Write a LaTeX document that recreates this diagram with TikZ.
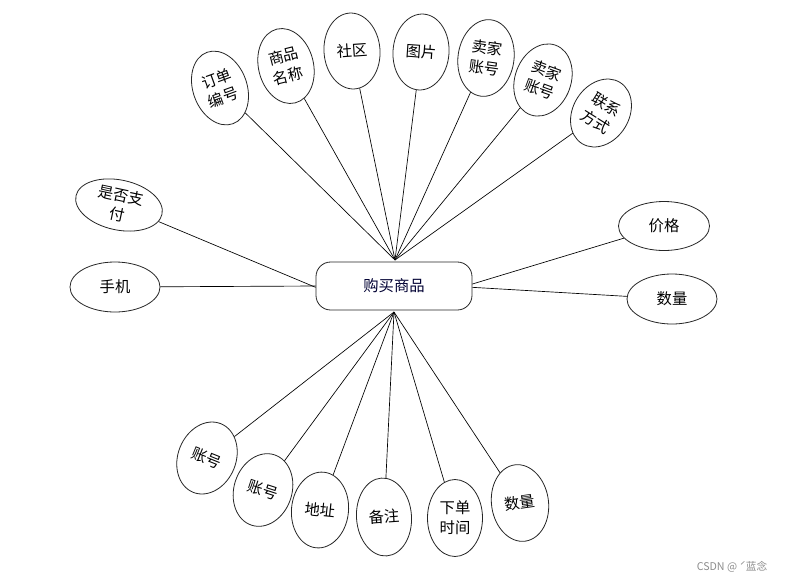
\documentclass[tikz,border=0pt]{standalone}
\usepackage{fontspec}
\setmainfont{Noto Sans CJK SC}
\usetikzlibrary{shapes.geometric}
\tikzset{
  attr/.style n args={3}{ellipse, draw=black!85, line width=0.6pt, fill=white,
    minimum width=#1*0.75pt, minimum height=#2*0.75pt, inner sep=0pt,
    rotate=#3, align=center, font=\fontsize{11.5}{15}\selectfont},
  ent/.style={rectangle, rounded corners=11pt, draw=black!85, line width=0.6pt,
    minimum width=117pt, minimum height=36pt, fill=white,
    font=\fontsize{11.5}{15}\selectfont, text=black!80!blue},
  link/.style={line width=0.5pt, black}
}
\begin{document}
\begin{tikzpicture}[x=0.75pt,y=-0.75pt]
\useasboundingbox (0,0) rectangle (786,583);
\node[ent] (c) at (394,286) {购买商品};
\coordinate (hubT) at (395,260);
\coordinate (hubB) at (394,312);
% top
\node[attr={54}{76}{20}] (ddbh) at (220,88) {订单\\编号};
\node[attr={55}{76}{14}] (spmc) at (286,66) {商品\\名称};
\node[attr={56}{76}{4}] (sq) at (352,51) {社区};
\node[attr={56}{76}{-4}] (tp) at (421,52) {图片};
\node[attr={56}{77}{-8}] (mjzh1) at (486,58) {卖家\\账号};
\node[attr={56}{74}{-20}] (mjzh2) at (543,80) {卖家\\账号};
\node[attr={56}{72}{-32}] (lxfs) at (601,113) {联系\\方式};
% left
\node[attr={88}{50}{-12}] (sfzf) at (119,205) {是否支\\付};
\node[attr={90}{50}{0}] (sj) at (115,287) {手机};
% right
\node[attr={91}{49}{0}] (jg) at (664,226) {价格};
\node[attr={90}{50}{0}] (sl1) at (672,299) {数量};
% bottom
\node[attr={58}{74}{-22}] (zh1) at (207,458) {账号};
\node[attr={58}{74}{-18}] (zh2) at (263,490) {账号};
\node[attr={57}{76}{-6}] (dz) at (320,510) {地址};
\node[attr={55}{78}{4}] (bz) at (384,517) {备注};
\node[attr={55}{77}{0}] (xdsj) at (455,518) {下单\\时间};
\node[attr={57}{77}{8}] (sl2) at (520,503) {数量};
% connectors
\foreach \n in {ddbh,spmc,sq,tp,mjzh1,mjzh2,lxfs}
  \draw[link] (\n) -- (hubT);
\foreach \n in {zh1,zh2,dz,bz,xdsj,sl2}
  \draw[link] (\n) -- (hubB);
\draw[link] (sfzf) -- ([yshift=-1pt]c.west);
\draw[link] (sj) -- (c.west);
\draw[link] (jg) -- ([yshift=1.5pt]c.east);
\draw[link] (sl1) -- ([yshift=-1pt]c.east);
% watermark
\node[text=black!45, font=\fontsize{8}{10}\selectfont, anchor=east] (wm) at (772,567) {CSDN @ ˊ蓝念};
\end{tikzpicture}
\end{document}
